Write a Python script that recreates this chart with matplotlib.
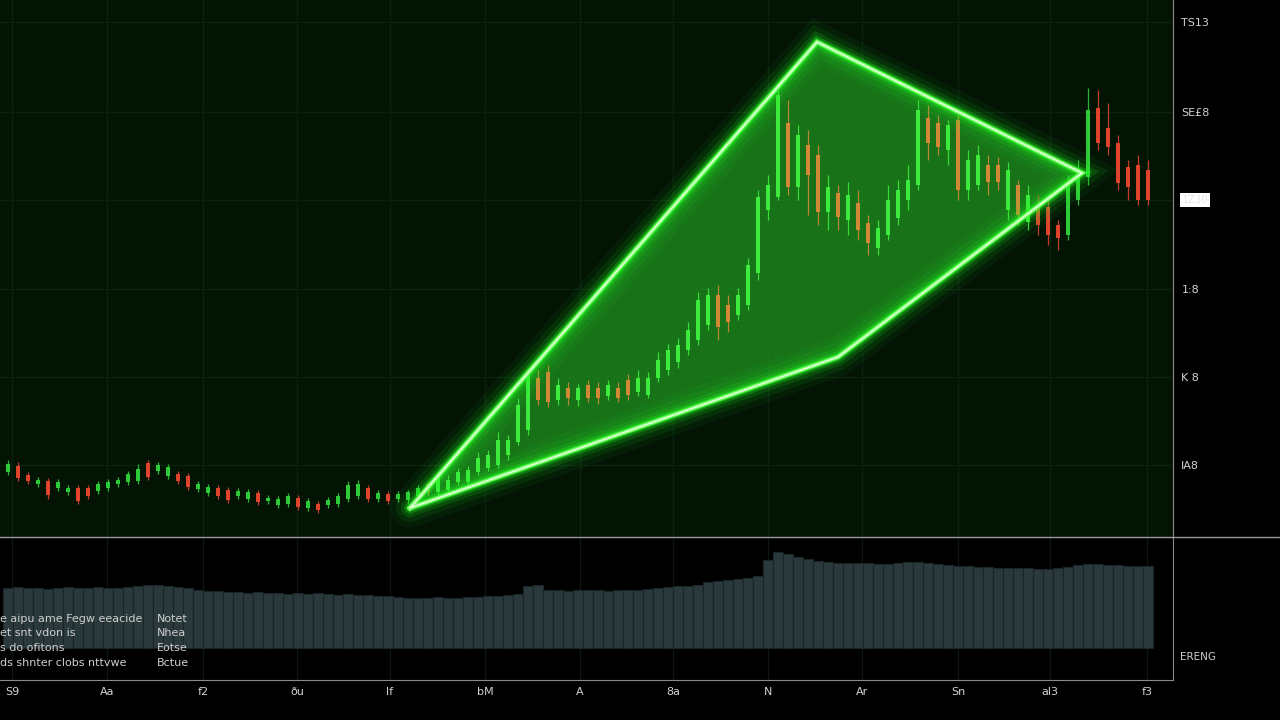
import matplotlib
matplotlib.use("Agg")
import matplotlib.pyplot as plt
from matplotlib.patches import Polygon, Rectangle
from matplotlib.path import Path
from matplotlib.lines import Line2D
import numpy as np

# candle data (one candle per session)
opens = [102.8, 103.4, 102.5, 101.6, 101.9, 101.2, 100.8, 101.2, 101.2, 100.9,
         101.2, 101.6, 101.8, 101.9, 103.7, 102.9, 102.4, 102.6, 102.4, 101.1,
         100.7, 101.2, 101.0, 100.4, 100.1, 100.7, 99.9, 99.5, 99.6, 100.2,
         99.2, 99.6, 99.5, 99.6, 100.1, 100.4, 101.2, 100.1, 100.6, 100.1,
         100.0, 100.4, 101.6, 100.8, 101.0, 101.8, 101.8, 102.8, 103.2, 103.5,
         104.5, 105.8, 107.0, 112.2, 112.8, 110.0, 111.2, 110.0, 111.5, 111.2,
         110.4, 111.2, 112.0, 110.8, 110.5, 112.2, 113.0, 113.8, 115.0, 116.0,
         117.5, 120.5, 119.5, 118.5, 119.5, 122.7, 129.0, 130.3,
         137.7, 131.3, 135.5, 134.5, 128.8, 130.7, 128.0, 129.7, 127.7, 125.2,
         126.5, 128.2, 130.0, 131.5, 138.2, 137.7, 135.0, 138.0, 131.0, 131.5,
         133.5, 133.5, 129.0, 131.5, 127.8, 129.5, 129.3, 127.5, 126.5,
         130.0, 132.3, 139.2, 137.2, 135.7, 133.3, 133.5, 133.0]
closes = [103.6, 102.2, 101.9, 102.0, 100.5, 101.8, 101.2, 99.9, 100.4, 101.6,
          101.8, 102.0, 102.6, 103.1, 102.3, 103.5, 103.3, 101.9, 101.3, 101.6,
          101.3, 100.4, 100.0, 100.9, 100.8, 99.8, 100.2, 100.1, 100.4, 99.3,
          99.9, 99.0, 100.0, 100.4, 101.5, 101.6, 100.1, 100.7, 99.9, 100.6,
          100.8, 101.2, 100.8, 102.2, 102.0, 102.8, 103.0, 104.2, 104.5, 106.0,
          106.0, 109.5, 112.5, 110.0, 109.8, 111.5, 110.2, 111.2, 110.2, 110.2,
          111.5, 110.2, 110.5, 112.2, 112.2, 114.0, 115.0, 115.5, 117.0, 120.0,
          120.5, 117.3, 117.8, 120.5, 123.5, 130.3, 131.5, 140.5,
          131.3, 136.5, 132.5, 128.8, 131.3, 128.3, 130.5, 127.0, 125.7, 127.2,
          130.0, 131.0, 132.0, 139.0, 135.7, 135.3, 137.5, 131.0, 134.0, 134.5,
          131.8, 131.8, 133.0, 128.5, 130.5, 127.5, 126.5, 126.2, 131.5,
          133.0, 139.0, 135.7, 135.3, 131.7, 131.3, 130.0, 130.0]
highs = [104.0, 103.8, 102.8, 102.3, 102.2, 102.1, 101.5, 101.5, 101.5, 101.9,
         102.1, 102.3, 102.9, 103.6, 104.0, 103.8, 103.6, 102.9, 102.7, 101.9,
         101.6, 101.5, 101.3, 101.2, 101.1, 101.0, 100.5, 100.4, 100.7, 100.5,
         100.2, 99.9, 100.3, 100.7, 101.9, 102.0, 101.5, 101.0, 100.9, 100.9,
         101.0, 101.5, 101.9, 102.6, 102.5, 103.2, 103.4, 104.8, 105.0, 106.8,
         106.5, 110.2, 113.2, 113.0, 113.5, 112.2, 111.8, 111.6, 112.0, 111.8,
         112.0, 111.8, 112.6, 113.0, 112.8, 114.8, 115.6, 116.2, 117.8, 120.8,
         121.2, 121.5, 120.5, 121.2, 124.2, 131.0, 132.5, 141.0,
         140.0, 137.5, 137.0, 135.5, 132.5, 131.5, 131.8, 131.0, 128.5, 128.0,
         131.5, 132.0, 133.5, 140.0, 139.5, 138.5, 138.0, 138.5, 135.0, 135.5,
         134.5, 134.3, 133.8, 132.0, 131.5, 130.5, 130.0, 128.0, 132.5,
         134.0, 141.2, 141.0, 139.7, 136.5, 134.0, 134.5, 134.0]
lows = [102.5, 101.9, 101.6, 101.3, 100.1, 100.9, 100.5, 99.6, 100.1, 100.6,
        100.9, 101.3, 101.5, 101.6, 102.0, 102.6, 102.1, 101.6, 101.0, 100.8,
        100.4, 100.1, 99.7, 100.1, 99.8, 99.5, 99.6, 99.2, 99.3, 99.0,
        98.9, 98.7, 99.2, 99.3, 99.8, 100.1, 99.8, 99.8, 99.6, 99.8,
        99.7, 100.1, 100.5, 100.5, 100.7, 101.5, 101.5, 102.5, 102.9, 103.2,
        104.0, 105.5, 106.5, 109.5, 109.3, 109.5, 109.5, 109.4, 109.8, 109.6,
        110.0, 109.8, 110.0, 110.4, 110.2, 111.8, 112.5, 113.2, 114.5, 115.5,
        117.0, 116.0, 116.8, 118.0, 119.0, 122.0, 128.0, 130.0,
        130.5, 130.0, 128.5, 127.5, 127.0, 127.0, 126.5, 126.0, 124.5, 124.5,
        126.0, 127.5, 129.0, 131.0, 134.0, 134.5, 133.5, 130.0, 130.0, 131.0,
        130.5, 131.0, 128.0, 127.5, 127.0, 126.5, 125.5, 125.0, 126.0,
        129.5, 131.5, 135.0, 134.5, 131.0, 130.0, 129.5, 129.5]
volumes = [60, 61, 60, 60, 59, 60, 61, 60, 60, 61, 60, 60, 61,
           62, 63, 63, 62, 61, 60,
           58, 57, 57, 56, 56, 55, 56, 55, 55, 54, 55, 54, 55, 54, 53, 54, 53, 53, 52, 52, 51,
           50, 50, 50, 51, 50, 50, 51, 51,
           52, 52, 53, 54,
           62, 63,
           58, 58, 57, 58, 58, 58, 57, 58, 58, 58, 59, 60,
           61, 62, 62, 63,
           66, 67, 68, 69, 70, 72,
           88, 96, 94,
           91, 89, 87, 86,
           85, 85, 85, 85, 84, 84, 85, 86, 86, 85, 84, 83, 82, 82,
           81, 81, 80, 80, 80, 80, 79, 79, 80, 81,
           83, 84, 84, 83, 83, 82, 82, 82]

# the glowing pattern (session index, price)
pattern_x = [40.2, 80.9, 107.4, 83.0]
pattern_y = [99.2, 145.8, 132.7, 114.3]

price_ticks = [147.8, 138.8, 130.0, 121.1, 112.3, 103.5]
price_labels = ["TS13", "SE£8", "", "1:8", "K 8", "IA8"]
last_price = 130.0
date_ticks = [0.4, 9.9, 19.5, 28.9, 38.2, 47.7, 57.2, 66.5, 76.0, 85.4, 95.0, 104.2, 113.9]
date_labels = ["S9", "Aa", "f2", "ðu", "lf", "bM", "A", "8a", "N", "Ar", "Sn", "al3", "f3"]
legend_rows = [("e aipu ame Fegw eeacide", "Notet"),
               ("et snt vdon is", "Nhea"),
               ("s do ofitons", "Eotse"),
               ("ds shnter clobs nttvwe", "Bctue")]

W, H = 1280, 720
fig = plt.figure(figsize=(12.8, 7.2), dpi=100, facecolor="black")
ax = fig.add_axes([0, 1 - 537 / H, 1173 / W, 537 / H])
axv = fig.add_axes([0, 1 - 680 / H, 1173 / W, 143 / H], sharex=ax)

ax.set_facecolor("#031405")
axv.set_facecolor("black")

x = np.arange(len(opens))
ax.set_xlim(-0.8, 116.5)
ax.set_ylim(96.3, 150.0)
axv.set_ylim(-32, 111)

# grid
ax.set_xticks(date_ticks)
ax.set_yticks(price_ticks)
ax.grid(True, color="#0a210d", lw=1.0)
axv.grid(True, axis="x", color="#0d1515", lw=1.0)
ax.set_axisbelow(True)
axv.set_axisbelow(True)

# pattern fill
pts = list(zip(pattern_x, pattern_y))
ax.add_patch(Polygon(pts, closed=True, facecolor="#22a422", edgecolor="none",
                     alpha=0.66, zorder=1))
tri = Path(pts + [pts[0]])

# candles
for i in range(len(opens)):
    o, c, hi, lo = opens[i], closes[i], highs[i], lows[i]
    inside = tri.contains_point((x[i], (o + c) / 2))
    if c >= o:
        col = "#3ff03f" if inside else "#2fd23a"
    else:
        col = "#d98a38" if inside else "#e8452f"
    ax.vlines(x[i], lo, hi, color=col, lw=0.9, zorder=3, alpha=0.85)
    ax.add_patch(Rectangle((x[i] - 0.22, min(o, c)), 0.44, max(abs(c - o), 0.15),
                           facecolor=col, edgecolor="none", zorder=3, alpha=0.95))

# glowing edges
px = pattern_x + [pattern_x[0]]
py = pattern_y + [pattern_y[0]]
for lw, a in [(28, 0.05), (20, 0.08), (13, 0.14), (8, 0.25), (5, 0.45)]:
    ax.plot(px, py, color="#22ff22", lw=lw, alpha=a, solid_joinstyle="miter",
            solid_capstyle="round", zorder=4)
ax.plot(px, py, color="#66ff55", lw=3.2, zorder=5, solid_joinstyle="miter")
ax.plot(px, py, color="#d8ffd0", lw=1.4, zorder=6, solid_joinstyle="miter")

# volume
axv.bar(x, volumes, width=1.0, color="#2a3a3c", edgecolor="#1a2527", lw=0.8, zorder=2)

# axes styling
for a in (ax, axv):
    for s in ("left", "top"):
        a.spines[s].set_visible(False)
    a.spines["right"].set_color("#8a8a8a")
ax.spines["bottom"].set_visible(False)
axv.spines["bottom"].set_color("#8a8a8a")

ax.yaxis.tick_right()
ax.set_yticklabels(price_labels)
ax.tick_params(axis="y", length=0, pad=6, labelsize=8, labelcolor="#d2d2d2")
ax.tick_params(axis="x", length=0, labelbottom=False)
axv.set_yticks([])
axv.set_xticks(date_ticks)
axv.set_xticklabels(date_labels)
axv.tick_params(axis="x", length=0, pad=5, labelsize=8, labelcolor="#d2d2d2")

ax.annotate("1Z30", xy=(1.0, last_price), xycoords=("axes fraction", "data"),
            xytext=(6, 0), textcoords="offset points", va="center", ha="left",
            fontsize=7.5, color="#e6e6e6",
            bbox=dict(boxstyle="square,pad=0.15", fc="white", ec="none"))

fig.add_artist(Line2D([0, 1], [1 - 537 / H, 1 - 537 / H], transform=fig.transFigure,
                      color="#9a9a9a", lw=1.0))

for k, (left, right) in enumerate(legend_rows):
    yy = 1 - (619 + 14.5 * k) / H
    fig.text(0.0, yy, left, fontsize=8, color="#cfcfcf", va="center", ha="left")
    fig.text(157 / W, yy, right, fontsize=8, color="#cfcfcf", va="center", ha="left")

fig.text(1180 / W, 1 - 657 / H, "ERENG", fontsize=7.5, color="#cfcfcf", va="center")

fig.savefig("out.png", dpi=100, facecolor="black")
